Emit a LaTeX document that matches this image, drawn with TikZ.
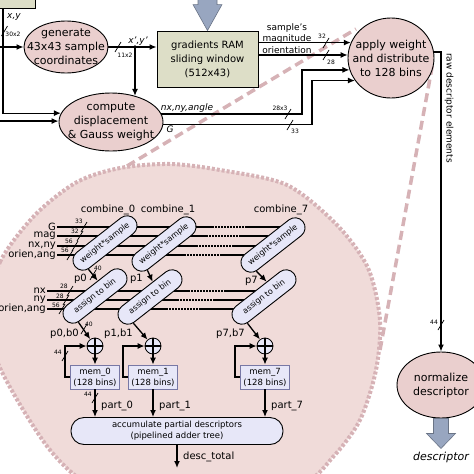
\documentclass[tikz,border=0pt]{standalone}
\usepackage{fontspec}
\setmainfont{DejaVu Sans}
\usetikzlibrary{shapes.geometric,arrows.meta,calc}

\definecolor{ellfill}{RGB}{234,207,206}
\definecolor{zoomfill}{RGB}{240,219,217}
\definecolor{zoomdash}{RGB}{214,178,182}
\definecolor{ramfill}{RGB}{221,222,199}
\definecolor{bigarr}{RGB}{152,166,192}
\definecolor{pillfill}{RGB}{231,231,248}
\definecolor{memline}{RGB}{120,120,165}

\tikzstyle{ell}=[ellipse,draw,fill=ellfill,line width=0.9pt,inner sep=-12pt,
align=center,font=\fontsize{11}{14}\selectfont]
\tikzstyle{ram}=[rectangle,draw,fill=ramfill,line width=0.9pt,align=center,
font=\fontsize{10}{14}\selectfont]
\tikzstyle{pill}=[rectangle,draw,fill=pillfill,line width=0.9pt,rounded corners=10pt,
minimum width=76pt,minimum height=20pt,inner sep=0pt,rotate=38,font=\fontsize{8}{9}\selectfont]
\tikzstyle{mem}=[rectangle,draw=memline,fill=pillfill,line width=0.8pt,minimum width=49pt,
minimum height=24pt,inner sep=0pt,align=center,font=\fontsize{8.5}{11}\selectfont]
\tikzstyle{adder}=[circle,draw,fill=pillfill,line width=0.8pt,minimum size=16pt,inner sep=0pt]
\tikzstyle{accbox}=[rectangle,draw,fill=pillfill,line width=0.9pt,rounded corners=13pt,
minimum width=212pt,minimum height=27pt,align=center,font=\fontsize{8.5}{11}\selectfont]
\tikzstyle{line}=[draw,line width=1.3pt]
\tikzstyle{arr}=[draw,line width=1.3pt,-{Latex[length=7pt,width=6pt]}]
\tikzstyle{dots}=[draw,line width=1.3pt,dash pattern=on 1.5pt off 1.5pt]
\tikzstyle{bus}=[draw,line width=0.7pt]
\tikzstyle{bigarrow}=[draw=bigarr!70!black,fill=bigarr,line width=0.6pt]
\tikzstyle{zoomline}=[draw=zoomdash,line width=3.5pt,dash pattern=on 9pt off 5pt]
\tikzstyle{tiny}=[inner sep=0.5pt,font=\fontsize{6}{7}\selectfont]
\tikzstyle{lab}=[inner sep=1pt,font=\fontsize{9}{11}\selectfont]
\tikzstyle{itlab}=[inner sep=1pt,font=\itshape\fontsize{9}{11}\selectfont]
\tikzstyle{sig}=[inner sep=1pt,font=\fontsize{10}{12}\selectfont]

\newcommand{\busmark}[1]{\draw[bus] (#1) ++(-3,5) -- ++(6,-10);}

\begin{document}
\begin{tikzpicture}[x=1pt,y=-1pt]
\useasboundingbox (0,0) rectangle (474,474);

\path [draw=zoomdash,fill=zoomfill,line width=4pt,dash pattern=on 3pt off 2pt]
plot [smooth cycle] coordinates {(-12,315) (0,262) (35,215) (77,182) (120,168) (170,164)
(220,170) (287,185) (337,225) (368,268) (380,320) (376,370) (360,420) (333,457) (300,485)
(200,510) (100,490) (50,450) (0,368)};
\coordinate (ztop) at (127,166);
\coordinate (zright) at (380,350);
\coordinate (zapplya) at (356,29);
\coordinate (zapplyb) at (433,62);
\path [zoomline] (ztop) -- (zapplya);
\path [zoomline] (zright) -- (zapplyb);

\node [ram,minimum width=50pt,minimum height=20pt] (src) at (10,-2) {};
\node [ell,minimum width=84pt,minimum height=52pt] (gen) at (66,47) {generate\\43x43 sample\\coordinates};
\node [ram,minimum width=101pt,minimum height=56pt] (grad) at (207.5,59) {gradients RAM\\sliding window\\(512x43)};
\node [ell,minimum width=104pt,minimum height=58pt] (comp) at (111,122) {compute\\displacement\\\& Gauss weight};
\node [ell,minimum width=86pt,minimum height=80pt] (apply) at (391,58) {apply weight\\and distribute\\to 128 bins};
\node [ell,minimum width=88pt,minimum height=66pt] (norm) at (441,385) {normalize\\descriptor};

\coordinate (xy) at (3,8);
\coordinate (edge) at (-3,0);
\coordinate (xyp) at (135,47);
\coordinate (bendn) at (302,0);
\coordinate (bendg) at (312,0);
\path [arr] (xy) |- (comp.170);
\path [arr] (gen.west -| edge) -- (gen.west);
\path [arr] (comp.179 -| edge) -- (comp.179);
\path [arr] (gen.east) -- (gen.east -| grad.west);
\fill (xyp) circle (1.8pt);
\path [arr] (xyp) -- (xyp |- comp.47);
\path [arr] (apply.159 -| grad.east) -- (apply.159);
\path [arr] (apply.176 -| grad.east) -- (apply.176);
\path [arr] (comp.9) -| (bendn |- apply.196) -- (apply.196);
\path [arr] (comp.357) -| (bendg |- apply.212) -- (apply.212);
\path [arr] (apply.8) -| (norm.north);

\path [bigarrow] (grad.north) -- ++(-14.5,-26) -- ++(5,0) -- ++(0,-12) -- ++(19,0)
-- ++(0,12) -- ++(5,0) -- cycle;
\path [bigarrow] (norm.south) -- ++(7.5,0) -- ++(0,15) -- ++(7,0) -- ++(-14.5,15)
-- ++(-14.5,-15) -- ++(7,0) -- ++(0,-15) -- cycle;

\node [itlab] (xylab) at (14,17) {x,y};
\busmark{4.5,31}
\node [tiny] (w30) at (13,34) {30x2};
\busmark{118,47}
\node [tiny] (w11) at (125,55) {11x2};
\node [itlab] (xyplab) at (138,41) {x',y'};
\node [lab] (smp) at (287,28) {sample's};
\node [lab] (mag) at (287,39) {magnitude};
\node [lab] (ori) at (287,50) {orientation};
\busmark{326,43}
\node [tiny] (w32) at (322,36) {32};
\busmark{326,55}
\node [tiny] (w28) at (331,62) {28};
\node [itlab] (nxlab) at (187,108) {nx,ny,angle};
\node [itlab] (glab) at (170,129) {G};
\busmark{288,114}
\node [tiny] (w28x3) at (280,108) {28x3};
\busmark{290,125}
\node [tiny] (w33) at (295,131) {33};
\node [lab,rotate=-90] (raw) at (449,108) {raw descriptor elements};
\busmark{441,325}
\node [tiny] (w44) at (434,322) {44};
\node [inner sep=1pt,font=\itshape\fontsize{11}{13}\selectfont] (desc) at (441,457) {descriptor};

\node [sig] (c0) at (108,210) {combine\_0};
\node [sig] (c1) at (168,210) {combine\_1};
\node [sig] (c7) at (281,210) {combine\_7};

\node [sig,anchor=east] (ig) at (57,227) {G};
\node [sig,anchor=east] (imag) at (57,236) {mag};
\node [sig,anchor=east] (inxny) at (57,246) {nx,ny};
\node [sig,anchor=east] (iori) at (57,255) {orien,ang};
\path [line] (ig.east) -- (212,227);
\path [dots] (212,227) -- (246,227);
\path [line] (246,227) -- (295,227);
\path [line] (imag.east) -- (206,236);
\path [dots] (206,236) -- (240,236);
\path [line] (240,236) -- (285,236);
\path [line] (inxny.east) -- (196,246);
\path [dots] (196,246) -- (232,246);
\path [line] (232,246) -- (272,246);
\path [line] (iori.east) -- (184,255);
\path [dots] (184,255) -- (220,255);
\path [line] (220,255) -- (259,255);
\busmark{84,227}
\busmark{80,236}
\busmark{75,246}
\busmark{70,255}
\node [tiny] (w33i) at (79,221) {33};
\node [tiny] (w32i) at (75,231) {32};
\node [tiny] (w56a) at (69,241) {56};
\node [tiny] (w56b) at (65,250) {56};

\node [sig,anchor=east] (inx) at (47,291) {nx};
\node [sig,anchor=east] (iny) at (47,300) {ny};
\node [sig,anchor=east] (iori2) at (47,309) {orien,ang};
\path [line] (inx.east) -- (188,291);
\path [dots] (188,291) -- (225,291);
\path [line] (225,291) -- (272,291);
\path [line] (iny.east) -- (177,300);
\path [dots] (177,300) -- (213,300);
\path [line] (213,300) -- (260,300);
\path [line] (iori2.east) -- (166,309);
\path [dots] (166,309) -- (201,309);
\path [line] (201,309) -- (248,309);
\busmark{70,291}
\busmark{66,300}
\busmark{62,309}
\node [tiny] (w28a) at (64,286) {28};
\node [tiny] (w28b) at (60,296) {28};
\node [tiny] (w56c) at (56,305) {56};

\node [pill] (w0) at (105,243) {weight*sample};
\node [pill] (w1) at (164,244) {weight*sample};
\node [pill] (w7) at (273,245) {weight*sample};
\node [pill] (a0) at (95,296) {assign to bin};
\node [pill] (a1) at (150,297) {assign to bin};
\node [pill] (a7) at (264,297) {assign to bin};

\path [arr] ($(w0.south west)!0.12!(w0.south east)$) -- ($(a0.north west)!0.65!(a0.north east)$);
\path [arr] ($(w1.south west)!0.12!(w1.south east)$) -- ($(a1.north west)!0.65!(a1.north east)$);
\path [arr] ($(w7.south west)!0.12!(w7.south east)$) -- ($(a7.north west)!0.65!(a7.north east)$);
\node [sig,anchor=east] (p0) at (88,279) {p0};
\node [sig,anchor=east] (p1) at (144,279) {p1};
\node [sig,anchor=east] (p7) at (259,281) {p7};
\busmark{93,275}
\node [tiny] (w40a) at (98,268) {40};

\node [adder] (s0) at (95,346) {};
\node [adder] (s1) at (153,346) {};
\node [adder] (s7) at (265,346) {};
\path [line] (s0.north) -- (s0.south) (s0.west) -- (s0.east);
\path [line] (s1.north) -- (s1.south) (s1.west) -- (s1.east);
\path [line] (s7.north) -- (s7.south) (s7.west) -- (s7.east);
\path [arr] ($(a0.south west)!0.12!(a0.south east)$) -- (s0);
\path [arr] ($(a1.south west)!0.12!(a1.south east)$) -- (s1);
\path [arr] ($(a7.south west)!0.12!(a7.south east)$) -- (s7);
\node [sig,anchor=east] (pb0) at (80,334) {p0,b0};
\node [sig,anchor=east] (pb1) at (134,334) {p1,b1};
\node [sig,anchor=east] (pb7) at (246,334) {p7,b7};
\busmark{84,329}
\node [tiny] (w40b) at (89,324) {40};

\node [mem] (m0) at (95,377) {mem\_0\\(128 bins)};
\node [mem] (m1) at (153,377) {mem\_1\\(128 bins)};
\node [mem] (m7) at (265,377) {mem\_7\\(128 bins)};
\path [arr] (s0.south) -- (m0.north);
\path [arr] (s1.south) -- (m1.north);
\path [arr] (s7.south) -- (m7.north);
\path [arr] (m0.west) -- ++(-5,0) |- (s0.west);
\path [arr] (m1.west) -- ++(-5,0) |- (s1.west);
\path [arr] (m7.west) -- ++(-5,0) |- (s7.west);
\busmark{65,356}
\node [tiny] (w44a) at (58,352) {44};

\node [accbox] (acc) at (177,431) {accumulate partial descriptors\\(pipelined adder tree)};
\path [arr] (m0.south) -- (m0.south |- acc.north);
\path [arr] (m1.south) -- (m1.south |- acc.north);
\path [arr] (m7.south) -- (m7.south |- acc.north);
\busmark{95,398}
\node [tiny] (w44b) at (88,394) {44};
\node [sig,anchor=west] (pt0) at (100,406) {part\_0};
\node [sig,anchor=west] (pt1) at (158,406) {part\_1};
\node [sig,anchor=west] (pt7) at (270,406) {part\_7};
\coordinate (dout) at (177,468);
\path [arr] (acc.south) -- (dout);
\node [sig,anchor=west] (dtot) at (182,457) {desc\_total};
\end{tikzpicture}
\end{document}
